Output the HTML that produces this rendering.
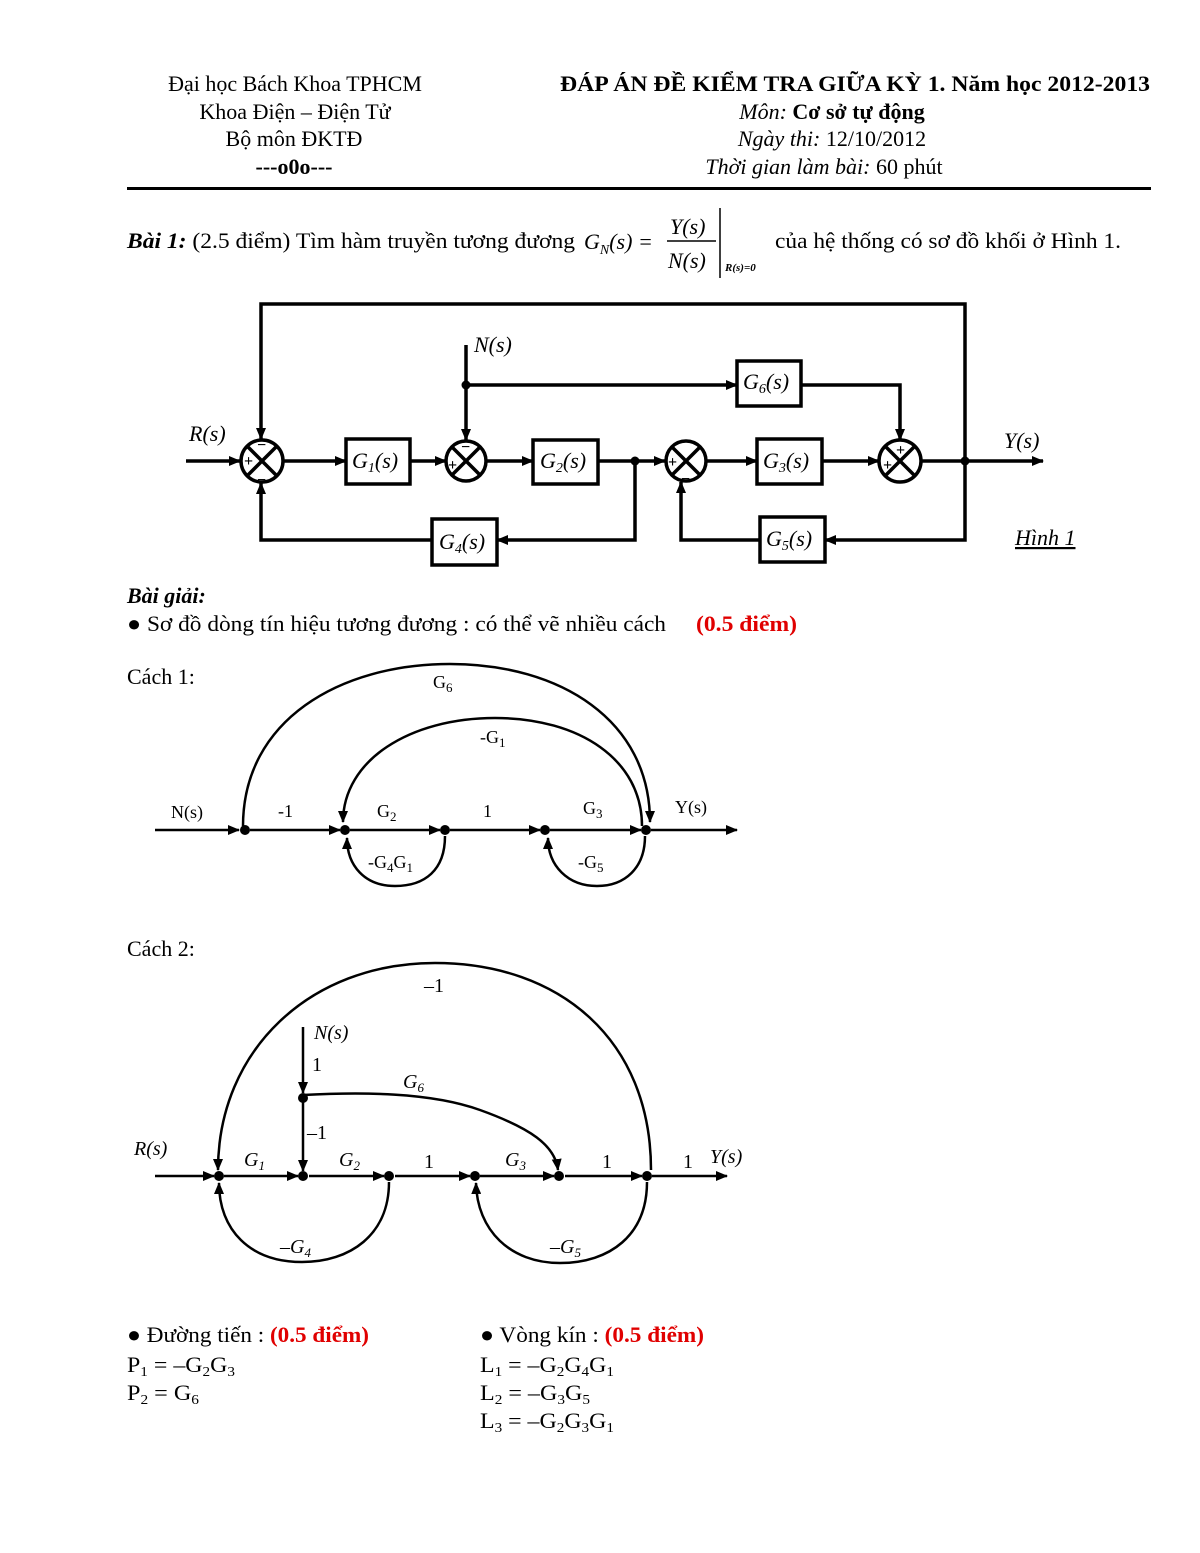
<!DOCTYPE html>
<html><head><meta charset="utf-8"><style>
html,body{margin:0;padding:0;background:#fff}
svg{display:block}
text{font-family:"Liberation Serif",serif;fill:#000}
</style></head><body>
<svg width="1200" height="1553" viewBox="0 0 1200 1553" xmlns="http://www.w3.org/2000/svg">
<defs>
<marker id="a" markerWidth="12" markerHeight="10" refX="11" refY="5" orient="auto" markerUnits="userSpaceOnUse"><path d="M0,0 L12,5 L0,10 Z" fill="#000"/></marker>
</defs>
<g font-size="22">
<text x="295" y="91" text-anchor="middle">Đại học Bách Khoa TPHCM</text>
<text x="295" y="119" text-anchor="middle">Khoa Điện – Điện Tử</text>
<text x="294" y="146" text-anchor="middle">Bộ môn ĐKTĐ</text>
<text x="294" y="174" text-anchor="middle" font-weight="bold">---o0o---</text>
<text x="560" y="91" font-weight="bold" textLength="590" lengthAdjust="spacingAndGlyphs">ĐÁP ÁN ĐỀ KIỂM TRA GIỮA KỲ 1. Năm học 2012-2013</text>
<text x="832" y="119" text-anchor="middle"><tspan font-style="italic">Môn:</tspan> <tspan font-weight="bold">Cơ sở tự động</tspan></text>
<text x="832" y="146" text-anchor="middle"><tspan font-style="italic">Ngày thi:</tspan> 12/10/2012</text>
<text x="824" y="174" text-anchor="middle"><tspan font-style="italic">Thời gian làm bài:</tspan> 60 phút</text>
</g>
<rect x="127" y="187" width="1024" height="3" fill="#000"/>
<g font-size="22">
<text x="127" y="248" textLength="448" lengthAdjust="spacingAndGlyphs"><tspan font-weight="bold" font-style="italic">Bài 1:</tspan> (2.5 điểm) Tìm hàm truyền tương đương</text>
<text x="584" y="249" font-style="italic">G<tspan font-size="14" dy="5">N</tspan><tspan dy="-5">(s) =</tspan></text>
<text x="670" y="234" font-style="italic">Y(s)</text>
<line x1="667" y1="241" x2="716" y2="241" stroke="#000" stroke-width="1.5"/>
<text x="668" y="268" font-style="italic">N(s)</text>
<line x1="720" y1="208" x2="720" y2="278" stroke="#000" stroke-width="1.5"/>
<text x="725" y="271" font-size="11" font-style="italic" font-weight="bold">R(s)=0</text>
<text x="775" y="248" textLength="346" lengthAdjust="spacingAndGlyphs">của hệ thống có sơ đồ khối ở Hình 1.</text>
</g>
<!-- block diagram -->
<g stroke="#000" stroke-width="3.5" fill="none">
<line x1="186" y1="461" x2="240" y2="461" marker-end="url(#a)"/>
<circle cx="262" cy="461" r="21"/><line x1="247" y1="446" x2="277" y2="476"/><line x1="277" y1="446" x2="247" y2="476"/>
<line x1="283" y1="461" x2="346" y2="461" marker-end="url(#a)"/>
<rect x="346" y="439" width="64" height="45"/>
<line x1="410" y1="461" x2="446" y2="461" marker-end="url(#a)"/>
<circle cx="466" cy="461" r="20"/><line x1="452" y1="447" x2="480" y2="475"/><line x1="480" y1="447" x2="452" y2="475"/>
<line x1="486" y1="461" x2="533" y2="461" marker-end="url(#a)"/>
<rect x="533" y="440" width="65" height="44"/>
<line x1="598" y1="461" x2="665" y2="461" marker-end="url(#a)"/>
<circle cx="686" cy="461" r="20"/><line x1="672" y1="447" x2="700" y2="475"/><line x1="700" y1="447" x2="672" y2="475"/>
<line x1="706" y1="461" x2="757" y2="461" marker-end="url(#a)"/>
<rect x="757" y="439" width="65" height="45"/>
<line x1="822" y1="461" x2="879" y2="461" marker-end="url(#a)"/>
<circle cx="900" cy="461" r="21"/><line x1="885" y1="446" x2="915" y2="476"/><line x1="915" y1="446" x2="885" y2="476"/>
<line x1="921" y1="461" x2="1043" y2="461" marker-end="url(#a)"/>
<polyline points="965,461 965,304 261,304 261,439" marker-end="url(#a)"/>
<polyline points="466,345 466,440" marker-end="url(#a)"/>
<polyline points="466,385 737,385" marker-end="url(#a)"/>
<rect x="737" y="361" width="64" height="45"/>
<polyline points="801,385 900,385 900,440" marker-end="url(#a)"/>
<polyline points="635,461 635,540 497,540" marker-end="url(#a)"/>
<rect x="432" y="519" width="65" height="46"/>
<polyline points="432,540 261,540 261,483" marker-end="url(#a)"/>
<polyline points="965,461 965,540 825,540" marker-end="url(#a)"/>
<rect x="760" y="517" width="65" height="45"/>
<polyline points="760,540 681,540 681,482" marker-end="url(#a)"/>
</g>
<g fill="#000"><circle cx="466" cy="385" r="4.5"/><circle cx="635" cy="461" r="4.5"/><circle cx="965" cy="461" r="4.5"/></g>
<g font-size="16" font-weight="bold">
<text x="244" y="466">+</text><text x="257" y="485">−</text><text x="257" y="450">−</text>
<text x="448" y="470">+</text><text x="461" y="452">−</text>
<text x="668" y="467">+</text><text x="681" y="484">−</text>
<text x="883" y="470">+</text><text x="896" y="455">+</text>
</g>
<g font-size="22" font-style="italic">
<text x="352" y="468">G<tspan font-size="14" dy="4">1</tspan><tspan dy="-4">(s)</tspan></text>
<text x="540" y="468">G<tspan font-size="14" dy="4">2</tspan><tspan dy="-4">(s)</tspan></text>
<text x="763" y="468">G<tspan font-size="14" dy="4">3</tspan><tspan dy="-4">(s)</tspan></text>
<text x="743" y="389">G<tspan font-size="14" dy="4">6</tspan><tspan dy="-4">(s)</tspan></text>
<text x="439" y="549">G<tspan font-size="14" dy="4">4</tspan><tspan dy="-4">(s)</tspan></text>
<text x="766" y="546">G<tspan font-size="14" dy="4">5</tspan><tspan dy="-4">(s)</tspan></text>
<text x="189" y="441">R(s)</text>
<text x="474" y="352">N(s)</text>
<text x="1004" y="448">Y(s)</text>
<text x="1015" y="545" text-decoration="underline">Hình 1</text>
</g>
<g font-size="22">
<text x="127" y="603" font-weight="bold" font-style="italic">Bài giải:</text>
<text x="127" y="631" textLength="539" lengthAdjust="spacingAndGlyphs">● Sơ đồ dòng tín hiệu tương đương : có thể vẽ nhiều cách</text>
<text x="696" y="631" fill="#e00000" style="fill:#e00000" font-weight="bold" textLength="101" lengthAdjust="spacingAndGlyphs">(0.5 điểm)</text>
<text x="127" y="684">Cách 1:</text>
<text x="127" y="956">Cách 2:</text>
</g>
<!-- Cach 1 -->
<g stroke="#000" stroke-width="2.5" fill="none">
<line x1="155" y1="830" x2="239" y2="830" marker-end="url(#a)"/>
<line x1="250" y1="830" x2="340" y2="830" marker-end="url(#a)"/>
<line x1="350" y1="830" x2="440" y2="830" marker-end="url(#a)"/>
<line x1="450" y1="830" x2="540" y2="830" marker-end="url(#a)"/>
<line x1="550" y1="830" x2="641" y2="830" marker-end="url(#a)"/>
<line x1="651" y1="830" x2="737" y2="830" marker-end="url(#a)"/>
<path d="M243,826 C243,720 340,664 450,664 C560,664 650,720 650,822" marker-end="url(#a)"/>
<path d="M642,826 C642,760 580,718 495,718 C410,718 343,760 343,822" marker-end="url(#a)"/>
<path d="M445,836 C445,870 425,886 395,886 C365,886 347,866 347,838" marker-end="url(#a)"/>
<path d="M645,836 C645,868 625,886 597,886 C568,886 548,866 548,838" marker-end="url(#a)"/>
</g>
<g fill="#000"><circle cx="245" cy="830" r="5"/><circle cx="345" cy="830" r="5"/><circle cx="445" cy="830" r="5"/><circle cx="545" cy="830" r="5"/><circle cx="646" cy="830" r="5"/></g>
<g font-size="18">
<text x="171" y="818">N(s)</text><text x="278" y="817">-1</text>
<text x="377" y="817">G<tspan font-size="13" dy="4">2</tspan></text>
<text x="483" y="817">1</text>
<text x="583" y="814">G<tspan font-size="13" dy="4">3</tspan></text>
<text x="675" y="813">Y(s)</text>
<text x="433" y="688">G<tspan font-size="13" dy="4">6</tspan></text>
<text x="480" y="743">-G<tspan font-size="13" dy="4">1</tspan></text>
<text x="368" y="868">-G<tspan font-size="13" dy="4">4</tspan><tspan dy="-4">G</tspan><tspan font-size="13" dy="4">1</tspan></text>
<text x="578" y="868">-G<tspan font-size="13" dy="4">5</tspan></text>
</g>
<!-- Cach 2 -->
<g stroke="#000" stroke-width="2.5" fill="none">
<line x1="155" y1="1176" x2="214" y2="1176" marker-end="url(#a)"/>
<line x1="224" y1="1176" x2="298" y2="1176" marker-end="url(#a)"/>
<line x1="309" y1="1176" x2="384" y2="1176" marker-end="url(#a)"/>
<line x1="395" y1="1176" x2="470" y2="1176" marker-end="url(#a)"/>
<line x1="480" y1="1176" x2="554" y2="1176" marker-end="url(#a)"/>
<line x1="565" y1="1176" x2="642" y2="1176" marker-end="url(#a)"/>
<line x1="652" y1="1176" x2="727" y2="1176" marker-end="url(#a)"/>
<line x1="303" y1="1027" x2="303" y2="1093" marker-end="url(#a)"/>
<line x1="303" y1="1098" x2="303" y2="1171" marker-end="url(#a)"/>
<path d="M303,1095 C360,1092 430,1092 480,1110 C530,1128 555,1145 558,1170" marker-end="url(#a)"/>
<path d="M651,1170 C651,1040 560,963 435,963 C310,963 218,1050 218,1170" marker-end="url(#a)"/>
<path d="M389,1182 C389,1235 350,1262 302,1262 C250,1262 219,1230 219,1183" marker-end="url(#a)"/>
<path d="M647,1182 C647,1235 610,1263 560,1263 C510,1263 477,1230 476,1183" marker-end="url(#a)"/>
</g>
<g fill="#000"><circle cx="219" cy="1176" r="5"/><circle cx="303" cy="1176" r="5"/><circle cx="303" cy="1098" r="5"/><circle cx="389" cy="1176" r="5"/><circle cx="475" cy="1176" r="5"/><circle cx="559" cy="1176" r="5"/><circle cx="647" cy="1176" r="5"/></g>
<g font-size="20">
<text x="134" y="1155" font-style="italic">R(s)</text>
<text x="244" y="1166" font-style="italic">G<tspan font-size="13" dy="4">1</tspan></text>
<text x="339" y="1166" font-style="italic">G<tspan font-size="13" dy="4">2</tspan></text>
<text x="424" y="1168">1</text>
<text x="505" y="1166" font-style="italic">G<tspan font-size="13" dy="4">3</tspan></text>
<text x="602" y="1168">1</text><text x="683" y="1168">1</text>
<text x="710" y="1163" font-style="italic">Y(s)</text>
<text x="314" y="1039" font-style="italic">N(s)</text>
<text x="312" y="1071">1</text>
<text x="307" y="1139">–1</text>
<text x="403" y="1088" font-style="italic">G<tspan font-size="13" dy="4">6</tspan></text>
<text x="424" y="992">–1</text>
<text x="280" y="1253" font-style="italic">–G<tspan font-size="13" dy="4">4</tspan></text>
<text x="550" y="1253" font-style="italic">–G<tspan font-size="13" dy="4">5</tspan></text>
</g>
<!-- bottom -->
<g font-size="22">
<text x="127" y="1342" textLength="242" lengthAdjust="spacingAndGlyphs">● Đường tiến : <tspan fill="#e00000" style="fill:#e00000" font-weight="bold">(0.5 điểm)</tspan></text>
<text x="127" y="1372" textLength="108" lengthAdjust="spacingAndGlyphs">P<tspan font-size="14" dy="4">1</tspan><tspan dy="-4"> = –G</tspan><tspan font-size="14" dy="4">2</tspan><tspan dy="-4">G</tspan><tspan font-size="14" dy="4">3</tspan></text>
<text x="127" y="1400" textLength="72" lengthAdjust="spacingAndGlyphs">P<tspan font-size="14" dy="4">2</tspan><tspan dy="-4"> = G</tspan><tspan font-size="14" dy="4">6</tspan></text>
<text x="480" y="1342" textLength="224" lengthAdjust="spacingAndGlyphs">● Vòng kín : <tspan fill="#e00000" style="fill:#e00000" font-weight="bold">(0.5 điểm)</tspan></text>
<text x="480" y="1372" textLength="134" lengthAdjust="spacingAndGlyphs">L<tspan font-size="14" dy="4">1</tspan><tspan dy="-4"> = –G</tspan><tspan font-size="14" dy="4">2</tspan><tspan dy="-4">G</tspan><tspan font-size="14" dy="4">4</tspan><tspan dy="-4">G</tspan><tspan font-size="14" dy="4">1</tspan></text>
<text x="480" y="1400" textLength="110" lengthAdjust="spacingAndGlyphs">L<tspan font-size="14" dy="4">2</tspan><tspan dy="-4"> = –G</tspan><tspan font-size="14" dy="4">3</tspan><tspan dy="-4">G</tspan><tspan font-size="14" dy="4">5</tspan></text>
<text x="480" y="1428" textLength="134" lengthAdjust="spacingAndGlyphs">L<tspan font-size="14" dy="4">3</tspan><tspan dy="-4"> = –G</tspan><tspan font-size="14" dy="4">2</tspan><tspan dy="-4">G</tspan><tspan font-size="14" dy="4">3</tspan><tspan dy="-4">G</tspan><tspan font-size="14" dy="4">1</tspan></text>
</g>
</svg>
</body></html>
